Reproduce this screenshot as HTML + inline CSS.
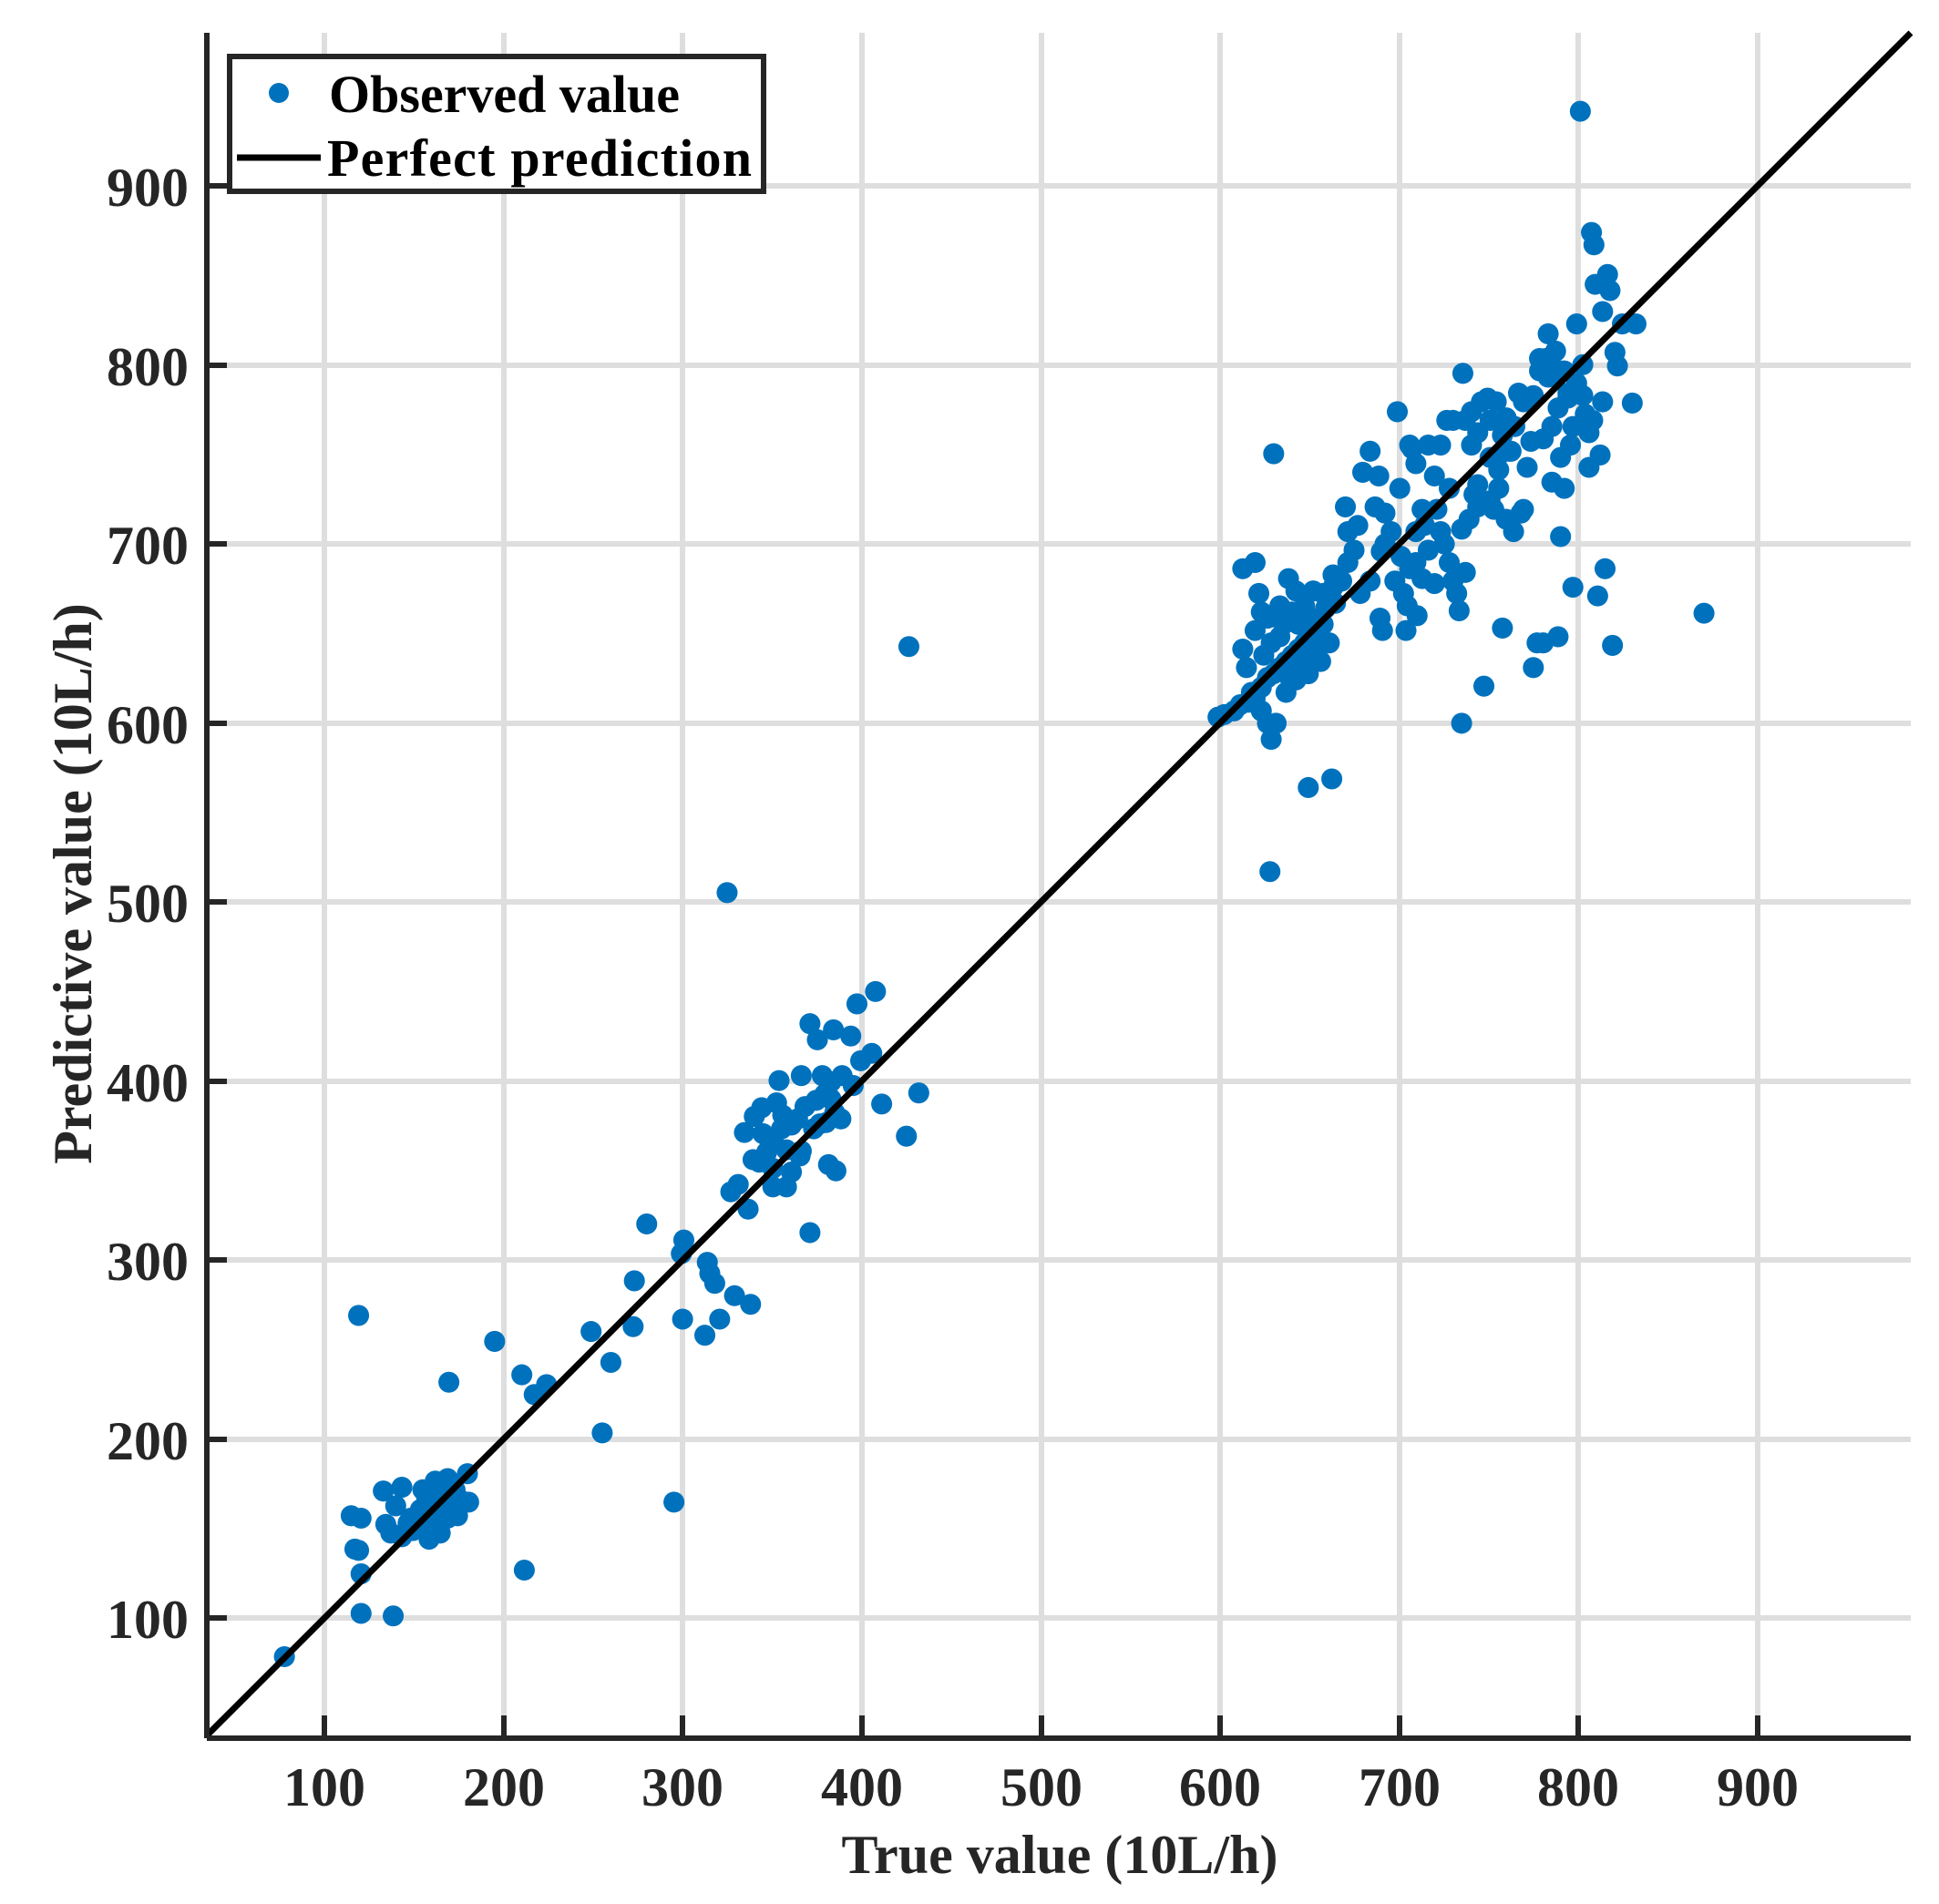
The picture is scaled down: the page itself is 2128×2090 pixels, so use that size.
<!DOCTYPE html>
<html><head><meta charset="utf-8"><style>html,body{margin:0;padding:0;background:#fff}svg{display:block}</style></head>
<body>
<svg width="2128" height="2090" viewBox="0 0 2128 2090" xmlns="http://www.w3.org/2000/svg" font-family="'Liberation Serif', serif" font-weight="bold">
<rect width="2128" height="2090" fill="#fff"/>
<g stroke="#dedede" stroke-width="6">
<line x1="356" y1="36" x2="356" y2="1905"/><line x1="553" y1="36" x2="553" y2="1905"/><line x1="749" y1="36" x2="749" y2="1905"/><line x1="946" y1="36" x2="946" y2="1905"/><line x1="1143" y1="36" x2="1143" y2="1905"/><line x1="1339" y1="36" x2="1339" y2="1905"/><line x1="1536" y1="36" x2="1536" y2="1905"/><line x1="1732" y1="36" x2="1732" y2="1905"/><line x1="1929" y1="36" x2="1929" y2="1905"/>
<line x1="227" y1="1776" x2="2097" y2="1776"/><line x1="227" y1="1580" x2="2097" y2="1580"/><line x1="227" y1="1383" x2="2097" y2="1383"/><line x1="227" y1="1187" x2="2097" y2="1187"/><line x1="227" y1="990" x2="2097" y2="990"/><line x1="227" y1="794" x2="2097" y2="794"/><line x1="227" y1="597" x2="2097" y2="597"/><line x1="227" y1="401" x2="2097" y2="401"/><line x1="227" y1="204" x2="2097" y2="204"/>
</g>
<g transform="scale(1.3571)" fill="#0072BD">
<g id="pts"></g>
</g>
<line x1="227" y1="1905" x2="2097" y2="36" stroke="#000" stroke-width="7"/>
<g stroke="#262626" stroke-width="6">
<line x1="227" y1="1908" x2="2097" y2="1908"/><line x1="227" y1="36" x2="227" y2="1908"/>
<line x1="356" y1="1905" x2="356" y2="1883"/><line x1="553" y1="1905" x2="553" y2="1883"/><line x1="749" y1="1905" x2="749" y2="1883"/><line x1="946" y1="1905" x2="946" y2="1883"/><line x1="1143" y1="1905" x2="1143" y2="1883"/><line x1="1339" y1="1905" x2="1339" y2="1883"/><line x1="1536" y1="1905" x2="1536" y2="1883"/><line x1="1732" y1="1905" x2="1732" y2="1883"/><line x1="1929" y1="1905" x2="1929" y2="1883"/>
<line x1="227" y1="1776" x2="249" y2="1776"/><line x1="227" y1="1580" x2="249" y2="1580"/><line x1="227" y1="1383" x2="249" y2="1383"/><line x1="227" y1="1187" x2="249" y2="1187"/><line x1="227" y1="990" x2="249" y2="990"/><line x1="227" y1="794" x2="249" y2="794"/><line x1="227" y1="597" x2="249" y2="597"/><line x1="227" y1="401" x2="249" y2="401"/><line x1="227" y1="204" x2="249" y2="204"/>
</g>
<g font-size="60" fill="#262626" text-anchor="middle">
<text x="356" y="1982">100</text><text x="553" y="1982">200</text><text x="749" y="1982">300</text><text x="946" y="1982">400</text><text x="1143" y="1982">500</text><text x="1339" y="1982">600</text><text x="1536" y="1982">700</text><text x="1732" y="1982">800</text><text x="1929" y="1982">900</text>
</g>
<g font-size="60" fill="#262626" text-anchor="end">
<text x="207" y="1798">100</text><text x="207" y="1602">200</text><text x="207" y="1405">300</text><text x="207" y="1209">400</text><text x="207" y="1012">500</text><text x="207" y="816">600</text><text x="207" y="619">700</text><text x="207" y="423">800</text><text x="207" y="226">900</text>
</g>
<text x="1163" y="2056" font-size="60" fill="#262626" text-anchor="middle">True value (10L/h)</text>
<text transform="translate(100,970) rotate(-90)" font-size="60" fill="#262626" text-anchor="middle">Predictive value (10L/h)</text>
<rect x="252" y="62" width="586" height="148" fill="#fff" stroke="#262626" stroke-width="6"/>
<circle cx="306" cy="102" r="11" fill="#0072BD"/>
<line x1="260" y1="173" x2="352" y2="173" stroke="#000" stroke-width="7"/>
<text x="361" y="123" font-size="58" fill="#000">Observed value</text>
<text x="359" y="193" font-size="58" fill="#000" textLength="466">Perfect prediction</text>
</svg>
<script>
var p=[[230,1340],[290,1064],[292,1305],[318,1307],[424,1270],[545,1215],[292,1273],[287,1253],[284,1226],[292,1228],[290,1254],[310,1206],[325,1203],[312,1233],[316,1240],[325,1243],[332,1228],[340,1221],[345,1211],[348,1205],[352,1198],[358,1213],[362,1196],[368,1205],[372,1213],[378,1192],[362,1228],[356,1240],[347,1245],[338,1236],[330,1232],[320,1218],[365,1218],[370,1226],[366,1200],[356,1205],[363,1118],[379,1215],[344,1229],[334,1238],[351,1219],[357,1230],[342,1205],
[400,1085],[422,1112],[432,1128],[442,1120],[487,1159],[478,1077],[494,1102],[512,1073],[513,1036],[523,990],[552,1067],[551,1014],[553,1003],[570,1080],[572,1021],[574,1030],[578,1038],[582,1067],[594,1048],[607,1055],[588,722],[735,523],
[591,964],[597,958],[605,978],[602,916],[610,903],[616,896],[614,940],[620,932],[626,925],[630,874],[632,913],[636,960],[640,948],[648,931],[655,997],[655,828],[661,841],[665,870],[672,889],[674,833],[688,838],[693,812],[708,802],[705,852],[713,893],[733,919],[743,884],[676,947],[670,942],[663,909],[651,895],[645,905],[636,930],[625,945],[621,920],[628,892],[640,910],[658,913],[668,908],[675,900],[690,878],[696,858],[681,870],[672,875],[667,885],[660,890],[647,935],[633,902],[617,917],[609,938],[625,960],[648,870],[680,905],
[985,580],[990,578],[998,575],[1003,570],[1010,568],[1015,565],[1020,556],[1025,548],[1030,545],[1035,540],[1040,535],[1045,530],[1050,525],[1055,520],[1060,515],[1065,510],[1070,505],[1005,460],[1015,455],[1018,480],[1005,525],[1008,540],[1012,560],[1020,575],[1025,585],[1028,598],[1032,585],[1040,560],[1048,550],[1052,540],[1058,545],[1062,528],[1068,535],[1075,520],[1015,510],[1020,495],[1025,500],[1035,490],[1042,468],[1048,478],[1055,490],[1062,478],[1060,500],[1050,505],[1045,495],[1038,505],[1028,520],[1022,530],[1035,515],[1043,548],[1030,367],[1027,705],[1058,637],[1077,630],[1090,455],[1090,430],[1088,410],[1095,445],[1098,425],[1102,382],[1108,365],[1112,410],[1115,385],[1116,500],[1118,510],[1117,446],[1120,440],[1125,430],[1130,333],[1133,450],[1135,480],[1137,510],[1140,460],[1145,455],[1142,363],[1145,375],[1150,412],[1152,425],[1155,360],[1160,385],[1162,412],[1165,430],[1168,440],[1170,340],[1172,455],[1175,470],[1178,480],[1180,494],[1182,585],[1185,463],[1183,302],[1188,420],[1190,360],[1190,333],[1192,400],[1195,392],[1200,555],[1203,322],[1205,405],[1208,412],[1210,372],[1212,380],[1215,508],[1218,338],[1220,365],[1224,430],[1228,318],[1232,412],[1235,378],[1238,357],[1240,540],[1243,520],[1245,300],[1248,520],[1250,290],[1252,270],[1255,390],[1258,284],[1260,515],[1262,434],[1265,300],[1268,322],[1270,360],[1272,475],[1275,262],[1278,90],[1280,295],[1282,335],[1285,350],[1287,188],[1289,198],[1290,230],[1292,482],[1294,368],[1296,252],[1298,460],[1300,222],[1302,235],[1304,522],[1306,285],[1308,296],[1312,262],[1320,326],[1323,262],[1378,496],[1150,468],[1160,472],[1198,325],[1222,365],[1245,290],[1262,300],[1268,318],[1275,310],[1280,320],[1260,330],[1255,345],[1185,340],[1195,350],[1205,340],[1215,352],[1225,345],[1165,360],[1175,340],[1140,360],[1132,395],[1120,415],[1128,470],[1138,490],[1146,498],[1108,470],[1100,480],[1145,430],[1155,445],[1172,395],[1182,428],[1212,395],[1230,415],[1248,355],[1262,370],[1272,345],[1288,340],[1296,325],[1285,378],[1265,395],[1240,320],[1252,305],[1232,325],[1210,325],[1218,420],[1205,370],[1195,410],[1078,465],[1070,480],[1080,488],[1085,470],[1072,492],[1066,515],[1078,475]];
var g=document.getElementById('pts'),s='';
for(var i=0;i<p.length;i++){s+='<circle cx="'+p[i][0]+'" cy="'+p[i][1]+'" r="8.5"/>';}
g.innerHTML=s;
</script>
</body></html>
